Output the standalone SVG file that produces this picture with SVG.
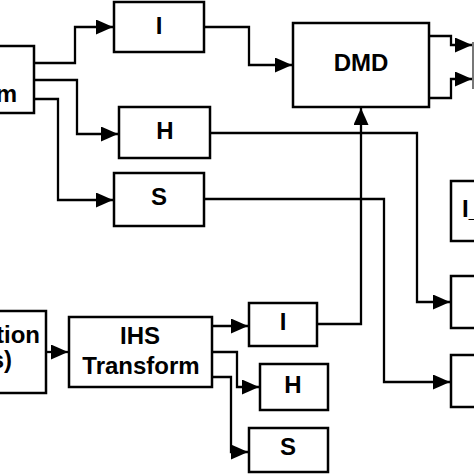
<svg xmlns="http://www.w3.org/2000/svg" width="474" height="474" viewBox="0 0 474 474">
<style>
.box{fill:#fff;stroke:#000;stroke-width:2.5}
.t{font-family:"Liberation Sans",Arial,sans-serif;font-weight:bold;font-size:24px;fill:#000}
.c{fill:none;stroke:#000;stroke-width:2.3}
</style>
<defs>
<marker id="ah" markerUnits="userSpaceOnUse" markerWidth="18" markerHeight="15" refX="17" refY="7.5" orient="auto">
<path d="M0,0 L17,7.5 L0,15 z" fill="#000"/>
</marker>
</defs>
<rect width="474" height="474" fill="#fff"/>
<g id="connectors">
<polyline class="c" points="34,63 75,63 75,27 113,27" marker-end="url(#ah)"/>
<polyline class="c" points="34,80 77,80 77,134 118,134" marker-end="url(#ah)"/>
<polyline class="c" points="34,99 58,99 58,200 113,200" marker-end="url(#ah)"/>
<polyline class="c" points="204,27 249,27 249,65 292,65" marker-end="url(#ah)"/>
<polyline class="c" points="429,36 451,36 451,45 472,45" marker-end="url(#ah)"/>
<polyline class="c" points="429,98 451,98 451,79 472,79" marker-end="url(#ah)"/>
<polyline class="c" points="210,133 417,133 417,302 450,302" marker-end="url(#ah)"/>
<polyline class="c" points="204,199 384,199 384,382 450,382" marker-end="url(#ah)"/>
<polyline class="c" points="317,324 361,324 361,108" marker-end="url(#ah)"/>
<polyline class="c" points="46,352 68,352" marker-end="url(#ah)"/>
<polyline class="c" points="212,326 248,326" marker-end="url(#ah)"/>
<polyline class="c" points="212,352 237,352 237,387 259,387" marker-end="url(#ah)"/>
<polyline class="c" points="212,377 231,377 231,452 248,452" marker-end="url(#ah)"/>
</g>
<g id="ihs-top">
<rect class="box" x="-40" y="46" width="74" height="67"/>
<text class="t" x="17" y="102" text-anchor="end">m</text>
</g>
<g id="i-top">
<rect class="box" x="114" y="2" width="90" height="50"/>
<text class="t" x="159" y="34" text-anchor="middle">I</text>
</g>
<g id="h-top">
<rect class="box" x="119" y="107" width="91" height="51"/>
<text class="t" x="165" y="139" text-anchor="middle">H</text>
</g>
<g id="s-top">
<rect class="box" x="114" y="173" width="90" height="53"/>
<text class="t" x="159" y="205" text-anchor="middle">S</text>
</g>
<g id="dmd">
<rect class="box" x="293" y="23" width="136" height="84"/>
<text class="t" x="361" y="71" text-anchor="middle">DMD</text>
</g>
<g id="right-top">
<rect x="473" y="43" width="60" height="45" fill="#fff" stroke="#777" stroke-width="2"/>
</g>
<g id="i-new">
<rect class="box" x="451" y="181" width="80" height="60"/>
<text class="t" x="462" y="217">I_</text>
</g>
<g id="right-mid">
<rect class="box" x="451" y="276" width="80" height="52"/>
</g>
<g id="right-bottom">
<rect class="box" x="451" y="355" width="80" height="52"/>
</g>
<g id="acquisition">
<rect class="box" x="-40" y="311" width="86" height="82"/>
<text class="t" x="40" y="343" text-anchor="end">tion</text>
<text class="t" x="12" y="368" text-anchor="end">s)</text>
</g>
<g id="ihs-bottom">
<rect class="box" x="69" y="317" width="143" height="70"/>
<text class="t" x="140" y="344" text-anchor="middle">IHS</text>
<text class="t" x="141" y="374" text-anchor="middle">Transform</text>
</g>
<g id="i-bottom">
<rect class="box" x="249" y="303" width="68" height="43"/>
<text class="t" x="283" y="330" text-anchor="middle">I</text>
</g>
<g id="h-bottom">
<rect class="box" x="260" y="364" width="68" height="46"/>
<text class="t" x="293" y="393" text-anchor="middle">H</text>
</g>
<g id="s-bottom">
<rect class="box" x="249" y="428" width="79" height="44"/>
<text class="t" x="288" y="455" text-anchor="middle">S</text>
</g>
</svg>
